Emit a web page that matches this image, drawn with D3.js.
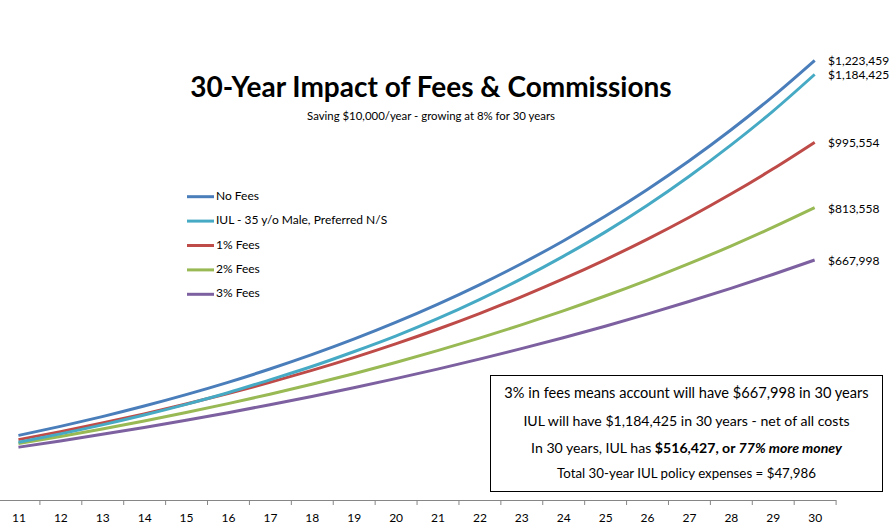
<!DOCTYPE html>
<html>
<head>
<script type="text/javascript" src="https://cdn.jsdelivr.net/npm/d3@7"></script>
<style>
body { margin: 0; background: #fff; }
text { font-family: Lato, "Noto Sans", sans-serif; }
</style>
</head>
<body>
<div id="chart"></div>
<script>
var years = [11,12,13,14,15,16,17,18,19,20,21,22,23,24,25,26,27,28,29,30];
var seriesNames = ["No Fees", "IUL - 35 y/o Male, Preferred N/S", "1% Fees", "2% Fees", "3% Fees"];
var seriesColors = ["#4a7ebb", "#46aac5", "#be4b48", "#98b954", "#7d60a0"];
var noFees = [179771,204953,232149,261521,293243,327502,364502,404463,447620,494229,544568,598933,657648,721059,789544,863508,943388,1029659,1122832,1223459];
var iul = [160800,184000,209100,236500,266200,298500,334500,371500,412600,456200,504600,557900,615600,678100,745500,819500,900400,987700,1081800,1184425];
var fees1 = [168044,190365,214230,239747,267030,296200,327389,360737,396392,434514,475274,518855,565452,615273,668542,725497,786394,851504,921120,995554];
var fees2 = [157132,176892,197807,219943,243372,268168,294413,322191,351591,382708,415642,450500,487393,526441,567769,611511,657807,706807,758668,813558];
var fees3 = [146978,164450,182753,201929,222016,243060,265106,288201,312395,337741,364294,392110,421251,451778,483759,517262,552360,589128,627646,667998];
var endLabels = ["$1,223,459", "$1,184,425", "$995,554", "$813,558", "$667,998"];
var boxLines = ["3% in fees means account will have $667,998 in 30 years",
                "IUL will have $1,184,425 in 30 years - net of all costs",
                "In 30 years, IUL has ",
                "Total 30-year IUL policy expenses = $47,986"];

var allSeries = [noFees, iul, fees1, fees2, fees3];
var labelNudge = [2, 2, 2, 2, 2];

var svg = d3.select("#chart")
	.append("svg")
	.attr("width", 892)
	.attr("height", 532);

svg.append("rect").attr("width", 892).attr("height", 532).attr("fill", "#fff");

var x = d3.scaleLinear().domain([10.5, 30.5]).range([-2.5, 835.6]);
var y = d3.scaleLinear().domain([0, 1400000]).range([500, -3]);

// axis: labels centred in categories, ticks on the boundaries
var bounds = years.map(function(d){ return d - 0.5; }).concat([30.5]);
var axisG = svg.append("g").attr("transform", "translate(0,500)");
axisG.call(d3.axisBottom(x).tickValues(bounds).tickFormat("").tickSize(5).tickSizeOuter(0));
axisG.selectAll("line").attr("stroke", "#868686");
axisG.select(".domain").attr("stroke", "#868686");

var labG = svg.append("g").attr("transform", "translate(0,500)");
labG.call(d3.axisBottom(x).tickValues(years).tickSize(0).tickPadding(13));
labG.select(".domain").remove();
labG.selectAll("text").attr("font-size", 12).attr("fill", "#000")
	.style("font-family", "Lato, sans-serif");

var line = d3.line()
	.x(function(d, i){ return x(years[i]); })
	.y(function(d){ return y(d); })
	.curve(d3.curveMonotoneX);

// draw bottom series first so No Fees sits on top
for (var s = allSeries.length - 1; s >= 0; s--) {
	svg.append("path")
		.attr("d", line(allSeries[s]))
		.attr("fill", "none")
		.attr("stroke", seriesColors[s])
		.attr("stroke-width", 3)
		.attr("stroke-linejoin", "round");
}

// end value labels
for (var s = 0; s < allSeries.length; s++) {
	svg.append("text")
		.attr("x", 828)
		.attr("y", y(allSeries[s][19]) + labelNudge[s])
		.attr("dominant-baseline", "middle")
		.attr("font-size", 12)
		.text(endLabels[s]);
}

// title
svg.append("text")
	.attr("x", 431).attr("y", 97)
	.attr("text-anchor", "middle")
	.attr("font-size", 28)
	.attr("font-weight", "bold")
	.text("30-Year Impact of Fees & Commissions");
svg.append("text")
	.attr("x", 431).attr("y", 120)
	.attr("text-anchor", "middle")
	.attr("font-size", 11.4)
	.text("Saving $10,000/year - growing at 8% for 30 years");

// legend
var leg = svg.append("g");
for (var i = 0; i < seriesNames.length; i++) {
	var ly = 196.7 + i * 24.4;
	leg.append("line")
		.attr("x1", 187).attr("x2", 214)
		.attr("y1", ly).attr("y2", ly)
		.attr("stroke", seriesColors[i])
		.attr("stroke-width", 3);
	leg.append("text")
		.attr("x", 216).attr("y", ly)
		.attr("dominant-baseline", "middle")
		.attr("font-size", 12)
		.text(seriesNames[i]);
}

// note box
svg.append("rect")
	.attr("x", 490.5).attr("y", 375.5)
	.attr("width", 392).attr("height", 116)
	.attr("fill", "#fff")
	.attr("stroke", "#000")
	.attr("stroke-width", 1);

var boxY = [393.5, 421.5, 448.5, 475];
var boxSize = [14.6, 14.1, 14.1, 13.3];
for (var i = 0; i < boxLines.length; i++) {
	var t = svg.append("text")
		.attr("x", 686.5).attr("y", boxY[i])
		.attr("text-anchor", "middle")
		.attr("dominant-baseline", "middle")
		.attr("font-size", boxSize[i]);
	t.append("tspan").text(boxLines[i]);
	if (i == 2) {
		t.append("tspan").attr("font-weight", "bold").text("$516,427, or ");
		t.append("tspan").attr("font-weight", "bold").attr("font-style", "italic").text("77% more money");
	}
}
</script>
</body>
</html>
